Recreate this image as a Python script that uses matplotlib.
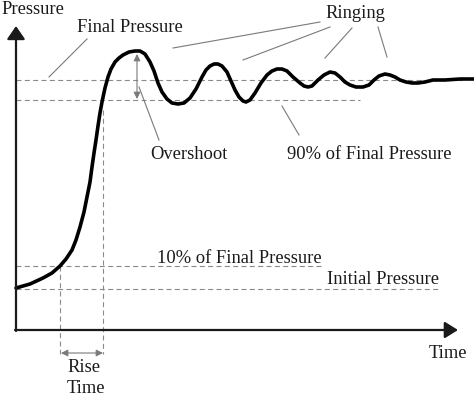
import matplotlib.pyplot as plt

# Pressure response curve (pixel space, y grows down)
curve_x = [16, 30, 43, 52, 60, 66, 72, 76, 80, 84, 87, 90, 92, 94, 96, 98, 100, 102,
           105, 108, 111, 115, 119, 123, 129, 135, 140, 145, 150, 154, 158, 162, 167,
           172, 178, 184, 190, 196, 202, 206, 210, 214, 218, 222, 227, 231, 235, 239,
           243, 246, 250, 255, 261, 267, 272, 277, 282, 287, 293, 300, 304, 308, 312,
           318, 324, 330, 335, 340, 345, 350, 356, 363, 369, 374, 379, 385, 390, 395,
           400, 406, 412, 418, 425, 433, 445, 460, 474]
curve_y = [288, 284, 278, 273, 266, 259, 250, 240, 227, 212, 197, 182, 167, 153, 140, 126, 113, 102,
           88, 77, 69, 62, 58, 55, 52, 51, 51, 54, 62, 71, 83, 92, 99,
           103, 104, 103, 98, 89, 77, 70, 66, 64, 64, 66, 72, 81, 90, 97,
           101, 102, 100, 93, 83, 75, 71, 69, 69, 71, 77, 83, 86, 87, 86,
           80, 75, 72, 73, 77, 82, 85, 87, 87, 85, 80, 76, 74, 75, 77,
           80, 82, 83, 83, 82, 80, 80, 79, 79]

# reference levels
final_y = 80
ninety_y = 100
ten_y = 266
initial_y = 289
rise_start_x = 60
rise_end_x = 103
peak_x = 137
peak_y = 52

# level line extents (right end)
level_ends = {"final": 462, "ninety": 360, "ten": 322, "initial": 438}

# label text
labels = ["Pressure", "Final Pressure", "Ringing", "Overshoot",
          "90% of Final Pressure", "10% of Final Pressure", "Initial Pressure",
          "Time", "Rise", "Time"]

# leader lines (x0, y0, x1, y1)
leaders = [(49, 77, 87, 39),
           (173, 48, 320, 22), (243, 60, 330, 27), (325, 58, 352, 28), (387, 57, 378, 27),
           (139, 87, 159, 140),
           (282, 106, 299, 135)]

plt.rcParams['font.family'] = ['Liberation Serif', 'DejaVu Serif']

fig = plt.figure(figsize=(4.74, 3.96), dpi=100)
ax = fig.add_axes([0, 0, 1, 1])
ax.set_xlim(0, 474)
ax.set_ylim(396, 0)
ax.axis('off')

axis_x0 = 16
axis_y0 = 330

dash_kw = dict(color='#8a8a8a', lw=0.8, dashes=(4.5, 3))
ax.plot([axis_x0, level_ends["final"]], [final_y, final_y], **dash_kw)
ax.plot([axis_x0, level_ends["ninety"]], [ninety_y, ninety_y], **dash_kw)
ax.plot([axis_x0, level_ends["ten"]], [ten_y, ten_y], **dash_kw)
ax.plot([axis_x0, level_ends["initial"]], [initial_y, initial_y], **dash_kw)
ax.plot([rise_start_x, rise_start_x], [ten_y, 354], **dash_kw)
ax.plot([rise_end_x, rise_end_x], [110, 354], **dash_kw)

for x0, y0, x1, y1 in leaders:
    ax.plot([x0, x1], [y0, y1], color='#7a7a7a', lw=0.8)

# axes arrows
ax.annotate('', xy=(axis_x0, 26), xytext=(axis_x0, axis_y0 + 1),
            arrowprops=dict(arrowstyle='-|>,head_length=0.8,head_width=0.55',
                            color='#1a1a1a', lw=1.6, mutation_scale=10,
                            shrinkA=0, shrinkB=0))
ax.annotate('', xy=(458, axis_y0), xytext=(axis_x0 - 1, axis_y0),
            arrowprops=dict(arrowstyle='-|>,head_length=0.8,head_width=0.5',
                            color='#1a1a1a', lw=1.6, mutation_scale=10,
                            shrinkA=0, shrinkB=0))

# overshoot and rise time double arrows
small = dict(arrowstyle='<|-|>,head_length=0.5,head_width=0.25', color='#7a7a7a',
             lw=0.8, mutation_scale=8, shrinkA=0, shrinkB=0)
ax.annotate('', xy=(peak_x, peak_y + 2), xytext=(peak_x, ninety_y - 1), arrowprops=small)
ax.annotate('', xy=(rise_start_x + 1, 353), xytext=(rise_end_x, 353), arrowprops=small)

ax.plot(curve_x, curve_y, color='black', lw=2.6, solid_capstyle='round',
        solid_joinstyle='round')

tk = dict(fontsize=13.3, color='#1a1a1a', va='baseline')
ax.text(1, 14, labels[0], ha='left', **tk)
ax.text(77, 32, labels[1], ha='left', **tk)
ax.text(325, 18, labels[2], ha='left', **tk)
ax.text(150, 159, labels[3], ha='left', **tk)
ax.text(287, 159, labels[4], ha='left', **tk)
ax.text(157, 263, labels[5], ha='left', **tk)
ax.text(327, 284, labels[6], ha='left', **tk)
ax.text(429, 358, labels[7], ha='left', **tk)
ax.text(84, 372, labels[8], ha='center', **tk)
ax.text(86, 393, labels[9], ha='center', **tk)

fig.savefig('out.png', dpi=100)
